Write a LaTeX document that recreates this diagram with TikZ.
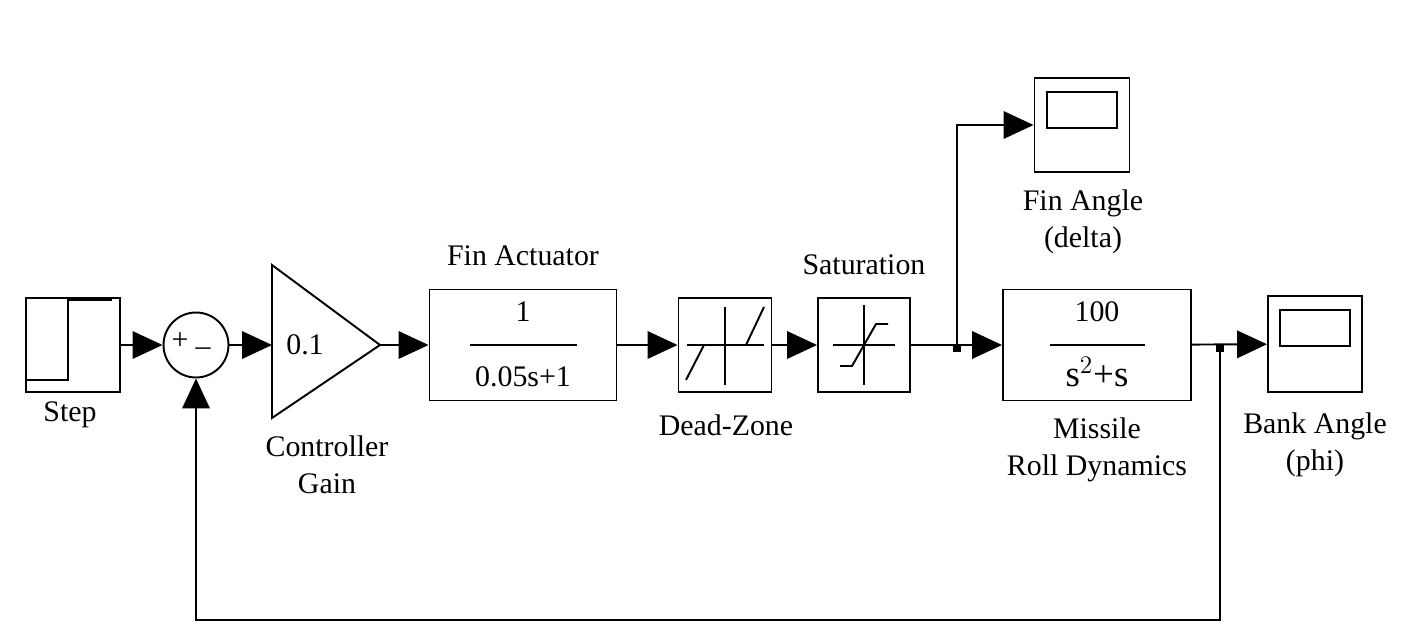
\documentclass[tikz,border=0pt]{standalone}
\usepackage{fontspec}
\setmainfont{Liberation Serif}
\usetikzlibrary{arrows.meta}
\tikzset{
  blk/.style={draw, line width=1.1pt, inner sep=0pt},
  sig/.style={line width=1.1pt, -{Triangle[length=0.6cm,width=0.55cm]}},
  wire/.style={line width=1.1pt},
  lbl/.style={align=center, font=\fontsize{17}{21}\selectfont},
}
\begin{document}
\begin{tikzpicture}[x=0.02cm, y=-0.02cm]
        \useasboundingbox (0,0) rectangle (1421,639);

        % Step source
        \node[blk, minimum width=1.88cm, minimum height=1.88cm] (step) at (73,345) {};
        \draw[wire] (26,380) -- (68,380) -- (68,300) -- (112,300);
        \node[lbl] (steplbl) at (70,415) {Step};

        % Sum
        \node[blk, circle, minimum size=1.3cm] (sum) at (196,345) {};
        \node[lbl] at (180,341) {+};
        \node[lbl] at (203,347) {\_};

        % Controller gain
        \draw[line width=1.1pt] (272,265) -- (380,345) -- (272,418) -- cycle;
        \coordinate (gin) at (272,345);
        \coordinate (gout) at (380,345);
        \node[lbl] (gainval) at (305,345) {0.1};
        \node[lbl] (gainlbl) at (327,465) {Controller\\Gain};

        % Fin actuator
        \node[blk, minimum width=3.74cm, minimum height=2.22cm] (fin) at (523,345) {};
        \node[lbl] at (523,312) {1};
        \draw[wire] (470,345) -- (577,345);
        \node[lbl] at (523,377) {0.05s+1};
        \node[lbl] (finlbl) at (523,256) {Fin Actuator};

        % Dead zone
        \node[blk, minimum width=1.86cm, minimum height=1.88cm] (dz) at (725,345) {};
        \draw[wire] (687,345) -- (764,345) (725,307) -- (725,385);
        \draw[wire] (686,380) -- (704,345) (746,345) -- (764,307);
        \node[lbl] (dzlbl) at (726,425) {Dead-Zone};

        % Saturation
        \node[blk, minimum width=1.84cm, minimum height=1.88cm] (sat) at (864,345) {};
        \draw[wire] (833,345) -- (895,345) (864,305) -- (864,385);
        \draw[wire] (840,366) -- (852,366) -- (876,324) -- (888,324);
        \node[lbl] (satlbl) at (864,265) {Saturation};

        % Missile roll dynamics
        \node[blk, minimum width=3.76cm, minimum height=2.22cm] (mis) at (1097,345) {};
        \node[lbl] at (1097,312) {100};
        \draw[wire] (1050,345) -- (1145,345);
        \node[lbl, font=\fontsize{21}{24}\selectfont] at (1097,372) {s$^2$+s};
        \node[lbl] (mislbl) at (1097,450) {Missile\\Roll Dynamics};

        % Scopes
        \node[blk, minimum width=1.9cm, minimum height=1.88cm] (scfin) at (1082,125) {};
        \draw[wire] (1047,92) rectangle (1117,128);
        \node[lbl] (scfinlbl) at (1083,222) {Fin Angle\\(delta)};
        \node[blk, minimum width=1.88cm, minimum height=1.92cm] (scbank) at (1315,344) {};
        \draw[wire] (1280,310) rectangle (1350,346);
        \node[lbl] (scbanklbl) at (1315,445) {Bank Angle\\(phi)};

        % Branch points
        \coordinate (b1) at (957,345);
        \coordinate (b2) at (1220,345);
        \fill (b1) ++(-4,-1) rectangle ++(8,8);
        \fill (b2) ++(-4,-1) rectangle ++(8,8);

        % Signals
        \draw[sig] (step) -- (sum);
        \draw[sig] (sum) -- (gin);
        \draw[sig] (gout) -- (fin);
        \draw[sig] (fin) -- (dz);
        \draw[sig] (dz) -- (sat);
        \draw[sig] (sat) -- (mis);
        \draw[sig] (b1) |- (scfin);
        \draw[sig] (mis) -- (scbank);
        \draw[sig] (b2) -- (1220,620) -| (sum);
\end{tikzpicture}
\end{document}
